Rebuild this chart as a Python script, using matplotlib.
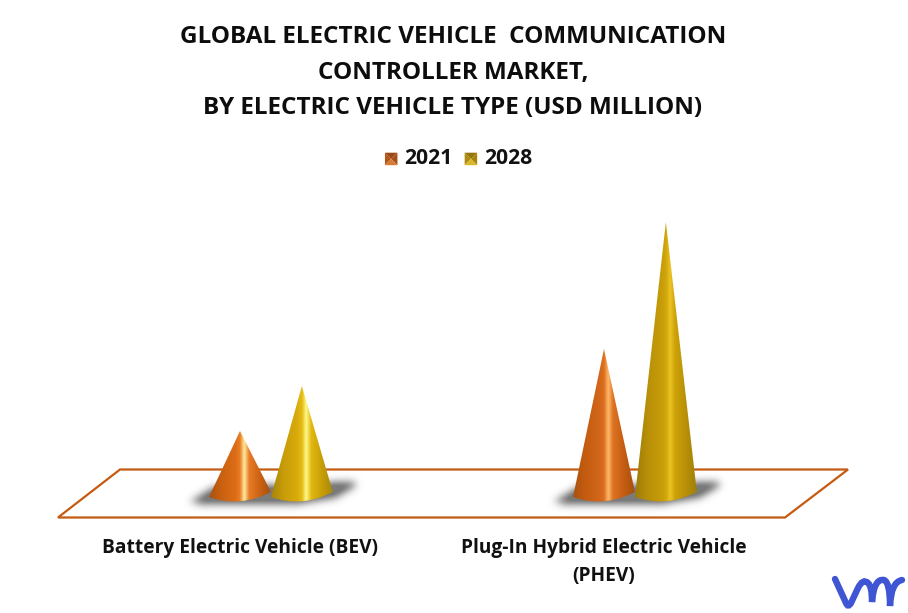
import numpy as np
import matplotlib
matplotlib.use("Agg")
import matplotlib.pyplot as plt
from matplotlib.colors import LinearSegmentedColormap
from matplotlib.legend_handler import HandlerBase
from matplotlib.patches import Patch, PathPatch, Polygon
from matplotlib.path import Path

plt.rcParams["font.family"] = ["Open Sans", "DejaVu Sans"]

# chart data (no axis in the original, so arbitrary units)
categories = ["Battery Electric Vehicle (BEV)", "Plug-In Hybrid Electric Vehicle\n(PHEV)"]
years = ["2021", "2028"]
values_2021 = [69, 151]
values_2028 = [114, 278]

title = "GLOBAL ELECTRIC VEHICLE  COMMUNICATION\nCONTROLLER MARKET,\nBY ELECTRIC VEHICLE TYPE (USD MILLION)"

W, H = 908, 613
ORANGE_LINE = "#c55a11"
# colour stops per category, per year
stops = {
    (0, 0): ["#a9500f", "#c9610f", "#dc6c18", "#e87d22", "#ffeaa0", "#e87c24", "#cc6214", "#a5500f"],
    (0, 1): ["#a88408", "#c79c08", "#d8aa0c", "#e4bc14", "#fff98a", "#e2b810", "#c89e08", "#a88608"],
    (1, 0): ["#a9500f", "#c55c10", "#d2661a", "#dc7020", "#ffb868", "#dc7222", "#c65c12", "#a5500f"],
    (1, 1): ["#9c7c08", "#b89008", "#c69c08", "#d0a60c", "#ecc224", "#cca208", "#b89008", "#a08008"],
}
stop_pos = [0, 0.2, 0.42, 0.5, 0.57, 0.65, 0.82, 1]


def shadow(ax, dx):
    # blurred polygon on the floor behind one pair of cones
    outline = [(190, 501), (213, 487), (354, 481), (354, 486), (335, 497), (300, 503), (205, 504)]
    x0, x1, y0, y1 = 165 + dx, 380 + dx, 462, 522
    xs, ys = np.meshgrid(np.arange(x0, x1), np.arange(y0, y1))
    pts = np.column_stack([xs.ravel() - dx, ys.ravel()])
    mask = Path(outline).contains_points(pts).reshape(xs.shape).astype(float)
    kernel = np.exp(-0.5 * (np.arange(-12, 13) / 4.0) ** 2)
    kernel /= kernel.sum()
    mask = np.apply_along_axis(lambda r: np.convolve(r, kernel, mode="same"), 0, mask)
    mask = np.apply_along_axis(lambda r: np.convolve(r, kernel, mode="same"), 1, mask)
    img = np.zeros(xs.shape + (4,))
    img[..., :3] = 0.42
    img[..., 3] = np.clip(mask * 1.1, 0, 0.9)
    ax.imshow(img, extent=(x0, x1, y1, y0), aspect="auto", zorder=2)


def cone(ax, x, half, height, colors):
    # base curve is a bit tilted because of the 3D view
    verts = [(x - half, 3), (x, height), (x + half, 8), (x, -8), (x - half, 3)]
    codes = [Path.MOVETO, Path.LINETO, Path.LINETO, Path.CURVE3, Path.CURVE3]
    clip = PathPatch(Path(verts, codes), transform=ax.transData, facecolor="none", edgecolor="none")
    ax.add_patch(clip)
    cmap = LinearSegmentedColormap.from_list("c", list(zip(stop_pos, colors)))
    grad = np.linspace(0, 1, 256).reshape(1, -1)
    im = ax.imshow(grad, cmap=cmap, extent=(x - half, x + half, -6, height + 1),
                   aspect="auto", zorder=3, interpolation="bilinear")
    im.set_clip_path(clip)


class PyramidHandler(HandlerBase):
    def create_artists(self, legend, orig, xd, yd, width, height, fontsize, trans):
        cols = orig.shades
        x0, x1 = -xd + width - 9, -xd + width
        y0, y1 = -yd - 0.5, -yd + 8.5
        xm, ym = (x0 + x1) / 2, (y0 + y1) / 2
        tris = [[(x0, y0), (x0, y1), (xm, ym)], [(x1, y0), (x1, y1), (xm, ym)],
                [(x0, y1), (x1, y1), (xm, ym)], [(x0, y0), (x1, y0), (xm, ym)]]
        return [Polygon(t, closed=True, facecolor=c, edgecolor="none", transform=trans)
                for t, c in zip(tris, cols)]


fig = plt.figure(figsize=(W / 100, H / 100), dpi=100)

# background layer in pixel coordinates: floor, shadows, logo
bg = fig.add_axes([0, 0, 1, 1])
bg.axis("off")
bg.add_patch(Polygon([(120, 469.5), (848, 469.5), (785, 517.5), (58, 517.5)], closed=True,
                     facecolor="white", edgecolor=ORANGE_LINE, linewidth=1.6, zorder=1))
shadow(bg, 0)
shadow(bg, 364)
bg.set_xlim(0, W)
bg.set_ylim(H, 0)

logo = Path([(835, 579), (846, 603), (848, 608), (851, 603), (858, 588), (863, 578), (868, 583),
             (872, 586), (872, 602), (874, 578), (884, 580), (890, 582), (890, 606), (891, 582), (902, 580)],
            [Path.MOVETO, Path.LINETO, Path.CURVE3, Path.CURVE3, Path.LINETO, Path.CURVE3, Path.CURVE3,
             Path.CURVE3, Path.CURVE3, Path.CURVE3, Path.CURVE3, Path.CURVE3, Path.CURVE3, Path.CURVE3, Path.CURVE3])
bg.add_patch(PathPatch(logo, facecolor="none", edgecolor="#3f55d3", linewidth=4.6, capstyle="round", zorder=2))

# chart layer: 1 y unit is 1 px, x runs along the front edge of the floor
ax = fig.add_axes([58 / W, 1 - 518 / H, 728 / W, 318 / H])
ax.patch.set_alpha(0)
half = 0.085
for i in range(len(categories)):
    cone(ax, i, half, values_2021[i], stops[(i, 0)])
    cone(ax, i + 2 * half, half, values_2028[i], stops[(i, 1)])
ax.set_xlim(-0.5, 1.5)
ax.set_ylim(-18, 300)
ax.set_yticks([])
ax.set_xticks(range(len(categories)))
ax.set_xticklabels(categories, fontsize=13.8, fontweight="bold", color="#111111", linespacing=1.5)
ax.tick_params(axis="x", length=0, pad=14.5)
for s in ax.spines.values():
    s.set_visible(False)

h1 = Patch(label=years[0])
h1.shades = ["#b5561a", "#a9501a", "#9c4a14", "#d87a34"]
h2 = Patch(label=years[1])
h2.shades = ["#b08c10", "#a88408", "#94760a", "#d8b828"]
fig.legend(handles=[h1, h2], loc="center", bbox_to_anchor=(457 / W, 1 - 159 / H), ncol=2, frameon=False,
           prop={"size": 15.2, "weight": "bold"}, handler_map={Patch: PyramidHandler()},
           handlelength=0.75, handletextpad=0.33, columnspacing=0.41, labelcolor="#111111")

fig.text(453 / W, 1 - 72.5 / H, title, ha="center", va="center", fontsize=17.45, fontweight="bold",
         color="#0d0d0d", linespacing=1.63)

fig.savefig("out.png", dpi=100)
